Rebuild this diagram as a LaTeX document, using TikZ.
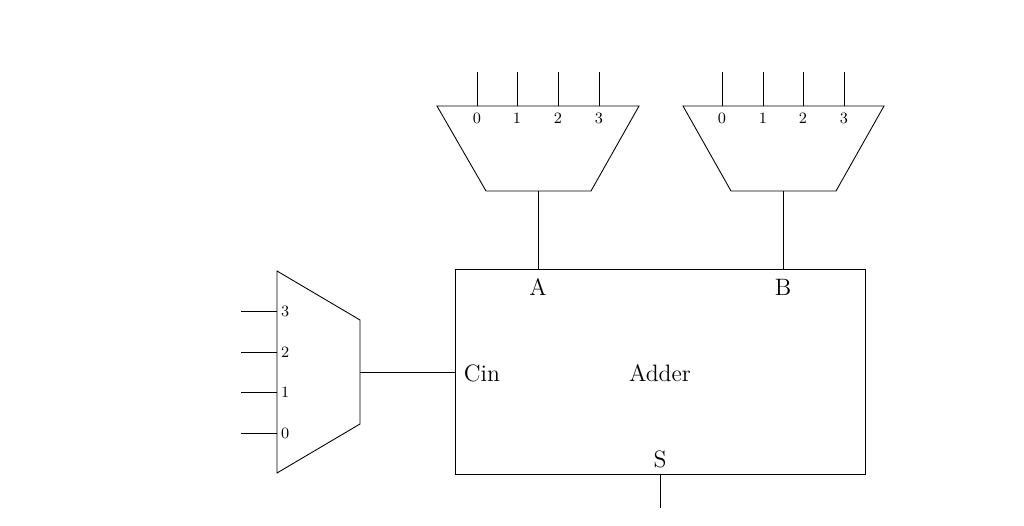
\documentclass[tikz,border=0pt]{standalone}
\begin{document}
\begin{tikzpicture}[x=0.02cm,y=-0.02cm,line width=0.5pt,
  pin/.style={font=\small,inner sep=1pt},
  lbl/.style={font=\fontsize{13.5}{16}\selectfont,inner sep=1pt}]
\useasboundingbox (0,0) rectangle (1024,526);
% adder
\draw (455,269) rectangle (865,474);
\node[lbl] (A) at (538,287) {A};
\node[lbl] (B) at (783,287) {B};
\node[lbl] (Cin) at (482,373) {Cin};
\node[lbl] (Add) at (660,373) {Adder};
\node[lbl] (S) at (660,459) {S};
\coordinate (ain) at (538,269);
\coordinate (bin) at (783,269);
\coordinate (cin) at (455,372);
\coordinate (sout) at (660,474);
\coordinate (send) at (660,508);
\draw (sout) -- (send);
% top muxes
\foreach \n/\l/\r/\bl/\br/\o in {ma/437/639/486/591/538, mb/683/884/731/836/783}{
  \draw (\l,106) -- (\r,106) -- (\br,191) -- (\bl,191) -- cycle;
  \coordinate (\n out) at (\o,191);
}
\foreach \x [count=\i from 0] in {477,517,558,599}{
  \draw (\x,72) -- (\x,106);
  \node[pin] (ma\i) at (\x,118) {\i};
}
\foreach \x [count=\i from 0] in {722,763,803,844}{
  \draw (\x,72) -- (\x,106);
  \node[pin] (mb\i) at (\x,118) {\i};
}
\draw (maout) -- (ain);
\draw (mbout) -- (bin);
% left mux
\draw (277,271) -- (360,320) -- (360,424) -- (277,473) -- cycle;
\foreach \y/\i in {311/3,352/2,392/1,433/0}{
  \draw (241,\y) -- (277,\y);
  \node[pin,anchor=west] (mc\i) at (279,\y) {\i};
}
\coordinate (mcout) at (360,372);
\draw (mcout) -- (cin);
\end{tikzpicture}
\end{document}
